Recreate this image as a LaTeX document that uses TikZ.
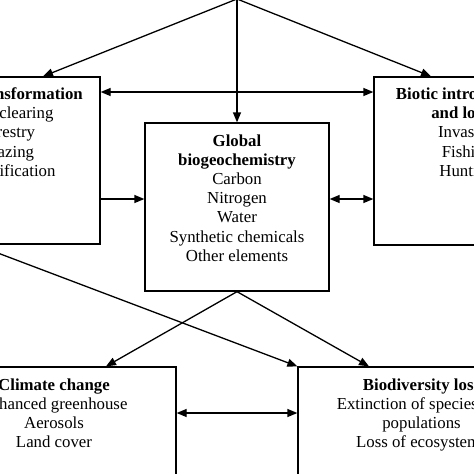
\documentclass[tikz,border=0pt]{standalone}
\usepackage{fontspec}
\setmainfont{Liberation Serif}
\usetikzlibrary{arrows.meta}
\begin{document}
\begin{tikzpicture}[x=1pt,y=-1pt,
  frame/.style={draw=black, line width=1.3pt, inner sep=0pt},
  tip/.style={Triangle[length=10pt,width=8pt]},
  conn/.style={line width=1.3pt, -{Triangle[length=10pt,width=8pt]}},
  both/.style={line width=1.3pt, {Triangle[length=10pt,width=8pt]}-{Triangle[length=10pt,width=8pt]}},
  txt/.style={inner sep=0pt, anchor=base, font=\fontsize{16.8}{19.2}\selectfont}]
\useasboundingbox (0,0) rectangle (474,474);
\fill[white] (0,0) rectangle (474,474);
\clip (0,0) rectangle (474,474);
% boxes
\node[frame, minimum width=186pt, minimum height=167pt] (land) at (7,160.5) {};
\node[frame, minimum width=184pt, minimum height=168pt] (global) at (237,207) {};
\node[frame, minimum width=186pt, minimum height=168pt] (biotic) at (467,161) {};
\node[frame, minimum width=244pt, minimum height=173pt] (climate) at (54,453.5) {};
\node[frame, minimum width=247pt, minimum height=173pt] (biodiv) at (421.5,453.5) {};
% texts
\node[txt] (landtxt) at (7,99.5) {\begin{tabular}[t]{@{}c@{}}\textbf{Land transformation}\\Land clearing\\Forestry\\Grazing\\Intensification\end{tabular}};
\node[txt] (globaltxt) at (237,146) {\begin{tabular}[t]{@{}c@{}}\textbf{Global}\\\textbf{biogeochemistry}\\Carbon\\Nitrogen\\Water\\Synthetic chemicals\\Other elements\end{tabular}};
\node[txt] (biotictxt) at (467,99.5) {\begin{tabular}[t]{@{}c@{}}\textbf{Biotic introductions}\\\textbf{and losses}\\Invasion\\Fishing\\Hunting\end{tabular}};
\node[txt] (climatetxt) at (54,390) {\begin{tabular}[t]{@{}c@{}}\textbf{Climate change}\\Enhanced greenhouse\\Aerosols\\Land cover\end{tabular}};
\node[txt] (biodivtxt) at (421.5,390) {\begin{tabular}[t]{@{}c@{}}\textbf{Biodiversity loss}\\Extinction of species and\\populations\\Loss of ecosystems\end{tabular}};
% connectors
\coordinate (top) at (237,-1);
\coordinate (landfoot) at (-26,244);
\draw[conn] (top) -- (43,0 |- land.north);
\draw[conn] (top) -- (431,0 |- biotic.north);
\draw[conn] (top) -- (global.north);
\draw[both] (land.east |- 0,92) -- (biotic.west |- 0,92);
\draw[conn] (land.east |- 0,199) -- (global.west |- 0,199);
\draw[both] (global.east |- 0,199) -- (biotic.west |- 0,199);
\draw[conn] (global.south) -- (106,0 |- climate.north);
\draw[conn] (global.south) -- (369,0 |- biodiv.north);
\draw[conn] (landfoot) -- (biodiv.north west);
\draw[both] (climate.east |- 0,413) -- (biodiv.west |- 0,413);
\end{tikzpicture}
\end{document}
